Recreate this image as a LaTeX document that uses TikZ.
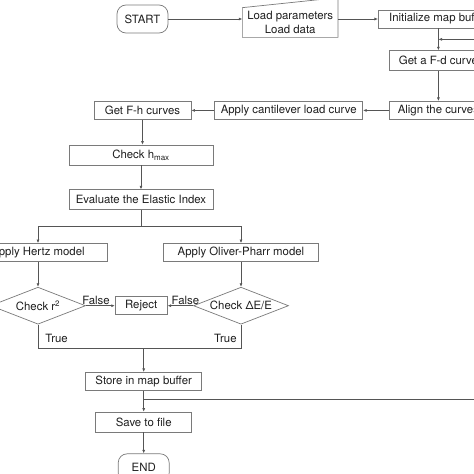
\documentclass[tikz,border=0pt]{standalone}
\usepackage{fontspec}
\setmainfont{TeX Gyre Heros}
\usetikzlibrary{arrows.meta,positioning,shapes.geometric}
\definecolor{BoxGray}{HTML}{7A7A7A}
\definecolor{LineGray}{HTML}{555555}
\definecolor{InkBlack}{HTML}{1E1E1E}

\begin{document}
\begin{tikzpicture}[x=1pt, y=1pt,
  flowline/.style={line width=0.7pt, draw=LineGray},
  flowarrow/.style={-{Latex[length=3.6pt, width=3pt]}, line width=0.7pt, draw=LineGray},
  procbox/.style={draw=BoxGray, line width=0.7pt, minimum height=18pt, inner sep=0pt,
    text=InkBlack, font=\fontsize{11.4}{13.5}\selectfont},
  termbox/.style={procbox, rounded corners=9pt, minimum width=51pt, minimum height=28pt},
  decisionbox/.style={procbox, diamond, shape aspect=2.5, minimum width=95pt, minimum height=37pt},
  inputbox/.style={procbox, draw=none, minimum width=95pt, minimum height=29pt, align=center},
  tag/.style={inner sep=1pt, text=InkBlack, font=\fontsize{11.4}{13.5}\selectfont}
]
\useasboundingbox (0,0) rectangle (474,-474);
\clip (0,0) rectangle (474,-474);
\fill[white] (0,0) rectangle (474,-474);
\node[termbox] (start) at (142.5,-19) {START};
\node[inputbox, right=74pt of start, yshift=-3.5pt] (load) {Load parameters\\Load data};
\node[procbox, minimum width=120pt, right=40pt of load, yshift=3.5pt] (init) {Initialize map buffer};
\node[procbox, minimum width=98pt, minimum height=20pt, below=22pt of init] (getfd) {Get a F-d curve};
\node[procbox, minimum width=98pt, below=30pt of getfd] (align) {Align the curves};
\node[procbox, minimum width=148pt, left=26pt of align] (cantilever) {Apply cantilever load curve};
\node[procbox, minimum width=97pt, left=23pt of cantilever] (getfh) {Get F-h curves};
\node[procbox, minimum width=144pt, minimum height=20pt, below=25pt of getfh, xshift=-1.5pt] (checkh) {Check h\textsubscript{max}};
\node[procbox, minimum width=144pt, minimum height=20pt, below=24pt of checkh] (evaluate) {Evaluate the Elastic Index};
\node[procbox, minimum width=138pt, below=33pt of evaluate, xshift=-103pt] (hertz) {Apply Hertz model};
\node[procbox, minimum width=155pt, below=33pt of evaluate, xshift=100pt] (oliver) {Apply Oliver-Pharr model};
\node[decisionbox, below=25pt of hertz] (checkr) {Check r\textsuperscript{2}};
\node[decisionbox, below=25pt of oliver] (checke) {Check ΔE/E};
\node[procbox, minimum width=52pt, right=29pt of checkr] (reject) {Reject};
\node[procbox, minimum width=116pt, below=57pt of reject, xshift=2.5pt] (store) {Store in map buffer};
\node[procbox, minimum width=96pt, minimum height=20pt, below=21pt of store] (save) {Save to file};
\node[termbox, below=21pt of save] (finish) {END};
\coordinate[below=16pt of evaluate] (split);
\coordinate[above=24pt of store] (join);
\coordinate[below=9pt of store] (tap);
\coordinate[below=11pt of init] (loopin);
\coordinate[right=14pt of getfd] (loopedge);
\draw[draw=BoxGray, line width=0.7pt] (load.south west) -- (load.south east)
  -- ([yshift=10pt]load.north east) -- (load.north west) -- cycle;
\draw[flowarrow] (start.east) -- (start.east -| load.west);
\draw[flowarrow] (load.east |- init) -- (init.west);
\draw[flowarrow] (init) -- (getfd);
\draw[flowarrow] (getfd) -- (align);
\draw[flowarrow] (align) -- (cantilever);
\draw[flowarrow] (cantilever) -- (getfh);
\draw[flowarrow] (getfh) -- (getfh |- checkh.north);
\draw[flowarrow] (checkh) -- (evaluate);
\draw[flowline] (evaluate) -- (split);
\draw[flowarrow] (split) -| (hertz);
\draw[flowarrow] (split) -| (oliver);
\draw[flowarrow] (hertz) -- (checkr);
\draw[flowarrow] (oliver) -- (checke);
\draw[flowarrow] (checkr) -- node[tag, above, pos=0.35] {False} (reject);
\draw[flowarrow] (checke) -- node[tag, above, pos=0.3] {False} (reject);
\draw[flowline] (checkr.south) -- node[tag, right, xshift=6pt, pos=0.6] {True} (checkr.south |- join)
  -- (checke.south |- join) -- node[tag, left, xshift=-3pt, pos=0.4] {True} (checke.south);
\draw[flowarrow] (join) -- (store);
\draw[flowarrow] (store) -- (save);
\draw[flowarrow] (save) -- (finish);
\draw[flowarrow] (tap) -- (tap -| loopedge) |- (loopin);
\end{tikzpicture}
\end{document}
